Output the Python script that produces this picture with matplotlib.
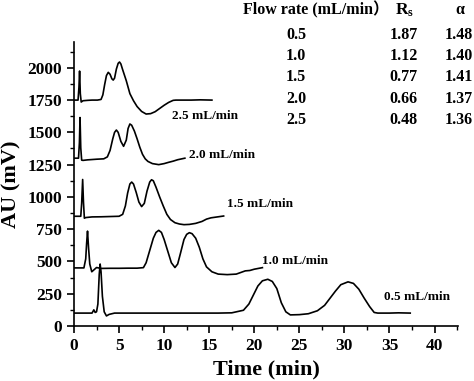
import matplotlib
matplotlib.use("Agg")
import matplotlib.pyplot as plt
from matplotlib.ticker import MultipleLocator

plt.rcParams["font.family"] = ["Liberation Serif", "Noto Sans CJK SC"]
plt.rcParams["font.weight"] = "bold"
plt.rcParams["mathtext.fontset"] = "custom"
plt.rcParams["mathtext.rm"] = "Liberation Serif:bold"
plt.rcParams["mathtext.bf"] = "Liberation Serif:bold"

# chromatograms: (time min, signal mV)
t_25 = [0, 0.45, 0.55, 0.62, 0.7, 0.8, 1.0, 1.5, 2.0, 2.6, 3.0, 3.2, 3.4, 3.6, 3.8, 4.0,
        4.2, 4.35, 4.5, 4.7, 4.9, 5.05, 5.2, 5.4, 5.8, 6.2, 6.6, 7.0, 7.5, 8.0, 8.5, 9.0,
        9.5, 10.0, 10.5, 11.0, 11.3, 12, 13, 14, 15.3]
y_25 = [1750, 1750, 1850, 1975, 1800, 1735, 1745, 1748, 1750, 1750, 1755, 1790, 1870, 1940,
        1965, 1950, 1915, 1905, 1920, 1990, 2035, 2045, 2030, 1985, 1900, 1800, 1745, 1700,
        1662, 1642, 1645, 1660, 1685, 1710, 1732, 1748, 1750, 1750, 1750, 1752, 1750]

t_20 = [0, 0.5, 0.6, 0.67, 0.75, 0.85, 1.0, 1.5, 2.5, 3.3, 3.7, 4.0, 4.3, 4.5, 4.7, 4.9,
        5.2, 5.5, 5.8, 6.0, 6.2, 6.4, 6.7, 7.0, 7.3, 7.6, 7.9, 8.2, 8.7, 9.4, 10.0, 10.5,
        11.0, 11.5, 12.3]
y_20 = [1300, 1300, 1420, 1615, 1380, 1285, 1283, 1287, 1292, 1295, 1310, 1360, 1450, 1500,
        1518, 1500, 1430, 1392, 1440, 1530, 1565, 1555, 1510, 1450, 1385, 1330, 1295, 1275,
        1258, 1250, 1258, 1268, 1277, 1288, 1300]

t_15 = [0, 0.75, 0.85, 0.96, 1.05, 1.15, 1.3, 2, 3, 4, 5, 5.4, 5.7, 5.95, 6.2, 6.4, 6.6,
        6.9, 7.2, 7.5, 7.8, 8.1, 8.4, 8.6, 8.8, 9.1, 9.5, 9.9, 10.3, 10.7, 11.2, 11.7, 12.2,
        12.8, 13.5, 14.2, 14.7, 15.2, 16.0, 16.6]
y_15 = [850, 850, 950, 1135, 960, 835, 840, 845, 846, 848, 850, 865, 930, 1030, 1100, 1115,
        1100, 1035, 960, 925, 950, 1045, 1115, 1133, 1125, 1075, 1000, 930, 865, 825, 800,
        790, 785, 787, 795, 810, 828, 838, 846, 852]

t_10 = [0, 1.1, 1.3, 1.4, 1.5, 1.62, 1.75, 1.97, 2.5, 3.0, 4, 5, 6, 7, 7.7, 8.0, 8.4, 8.8,
        9.1, 9.4, 9.7, 10.0, 10.4, 10.8, 11.2, 11.5, 11.8, 12.2, 12.5, 12.8, 13.1, 13.5,
        13.9, 14.3, 14.7, 15.3, 16.0, 17.0, 18.0, 19.0, 19.5, 20.0, 20.9]
y_10 = [450, 450, 520, 640, 735, 600, 480, 420, 453, 446, 447, 447, 448, 448, 452, 490, 585,
        680, 725, 741, 725, 670, 580, 490, 453, 480, 560, 670, 710, 723, 715, 680, 610, 520,
        458, 420, 402, 398, 402, 427, 430, 440, 452]

t_05 = [0, 2.0, 2.2, 2.35, 2.5, 2.65, 2.8, 2.9, 3.0, 3.15, 3.35, 3.6, 3.9, 4.5, 6, 8, 10,
        12, 14, 16, 17.5, 18.8, 19.4, 19.9, 20.4, 20.9, 21.5, 22.0, 22.5, 23.0, 23.5, 24.0,
        25, 26, 27, 27.8, 28.4, 29.0, 29.6, 30.4, 31.0, 31.6, 32.2, 32.8, 33.3, 33.7, 35,
        36, 37.3]
y_05 = [100, 100, 125, 105, 110, 170, 400, 480, 420, 230, 110, 78, 90, 100, 100, 100, 100,
        100, 100, 100, 102, 122, 170, 240, 310, 350, 362, 345, 290, 180, 110, 86, 88, 95,
        118, 160, 215, 270, 320, 342, 330, 285, 215, 150, 105, 100, 100, 102, 100]

labels = ["2.5 mL/min", "2.0 mL/min", "1.5 mL/min", "1.0 mL/min", "0.5 mL/min"]
label_x = [10.9, 12.8, 17.0, 20.9, 34.4]
label_y = [1630, 1328, 942, 502, 224]

# table in the upper right
flow = ["0.5", "1.0", "1.5", "2.0", "2.5"]
rs = ["1.87", "1.12", "0.77", "0.66", "0.48"]
alpha = ["1.48", "1.40", "1.41", "1.37", "1.36"]

W, H = 474, 381
fig = plt.figure(figsize=(W / 100, H / 100), dpi=100)
ax = fig.add_axes([74 / W, 1 - 326 / H, (458 - 74) / W, (326 - 42) / H])

for t, y in [(t_25, y_25), (t_20, y_20), (t_15, y_15), (t_10, y_10), (t_05, y_05)]:
    ax.plot(t, y, color="black", lw=1.2)

for lab, lx, ly in zip(labels, label_x, label_y):
    ax.text(lx, ly, lab, fontsize=9.5, fontweight="bold", va="center", ha="left")

ax.set_xlim(0, 42.6)
ax.set_ylim(0, 2200)
ax.xaxis.set_major_locator(MultipleLocator(5))
ax.xaxis.set_minor_locator(MultipleLocator(2.5))
ax.yaxis.set_minor_locator(MultipleLocator(125))
ax.set_yticks([0, 250, 500, 750, 1000, 1250, 1500, 1750, 2000])
ax.spines["top"].set_visible(False)
ax.spines["right"].set_visible(False)
for s in ["left", "bottom"]:
    ax.spines[s].set_linewidth(1.2)
ax.tick_params(which="major", direction="out", length=5, width=1.2, labelsize=12.5)
ax.tick_params(which="minor", direction="out", length=3, width=1.0)
for lbl in ax.get_xticklabels() + ax.get_yticklabels():
    lbl.set_fontweight("bold")

ax.set_xlabel("Time (min)", fontsize=16, fontweight="bold", labelpad=4)
ax.set_ylabel("AU (mV)", fontsize=16, fontweight="bold", labelpad=4)

def fx(px):
    return px / W

def fy(py):
    return 1 - py / H

fig.text(fx(243), fy(10), "Flow rate (mL/min）", fontsize=11.5, fontweight="bold",
         ha="left", va="center")
fig.text(fx(405), fy(10), r"$\mathrm{R_s}$", fontsize=12.5, ha="center", va="center")
fig.text(fx(460), fy(10), "α", fontsize=11.5, fontweight="bold", ha="center", va="center")
row_y = [35, 56, 77, 99, 120]
for f, r, a, py in zip(flow, rs, alpha, row_y):
    fig.text(fx(296), fy(py), f, fontsize=11.5, fontweight="bold", ha="center", va="center")
    fig.text(fx(418), fy(py), r, fontsize=11.5, fontweight="bold", ha="right", va="center")
    fig.text(fx(445), fy(py), a, fontsize=11.5, fontweight="bold", ha="left", va="center")

fig.savefig("out.png", dpi=100)
